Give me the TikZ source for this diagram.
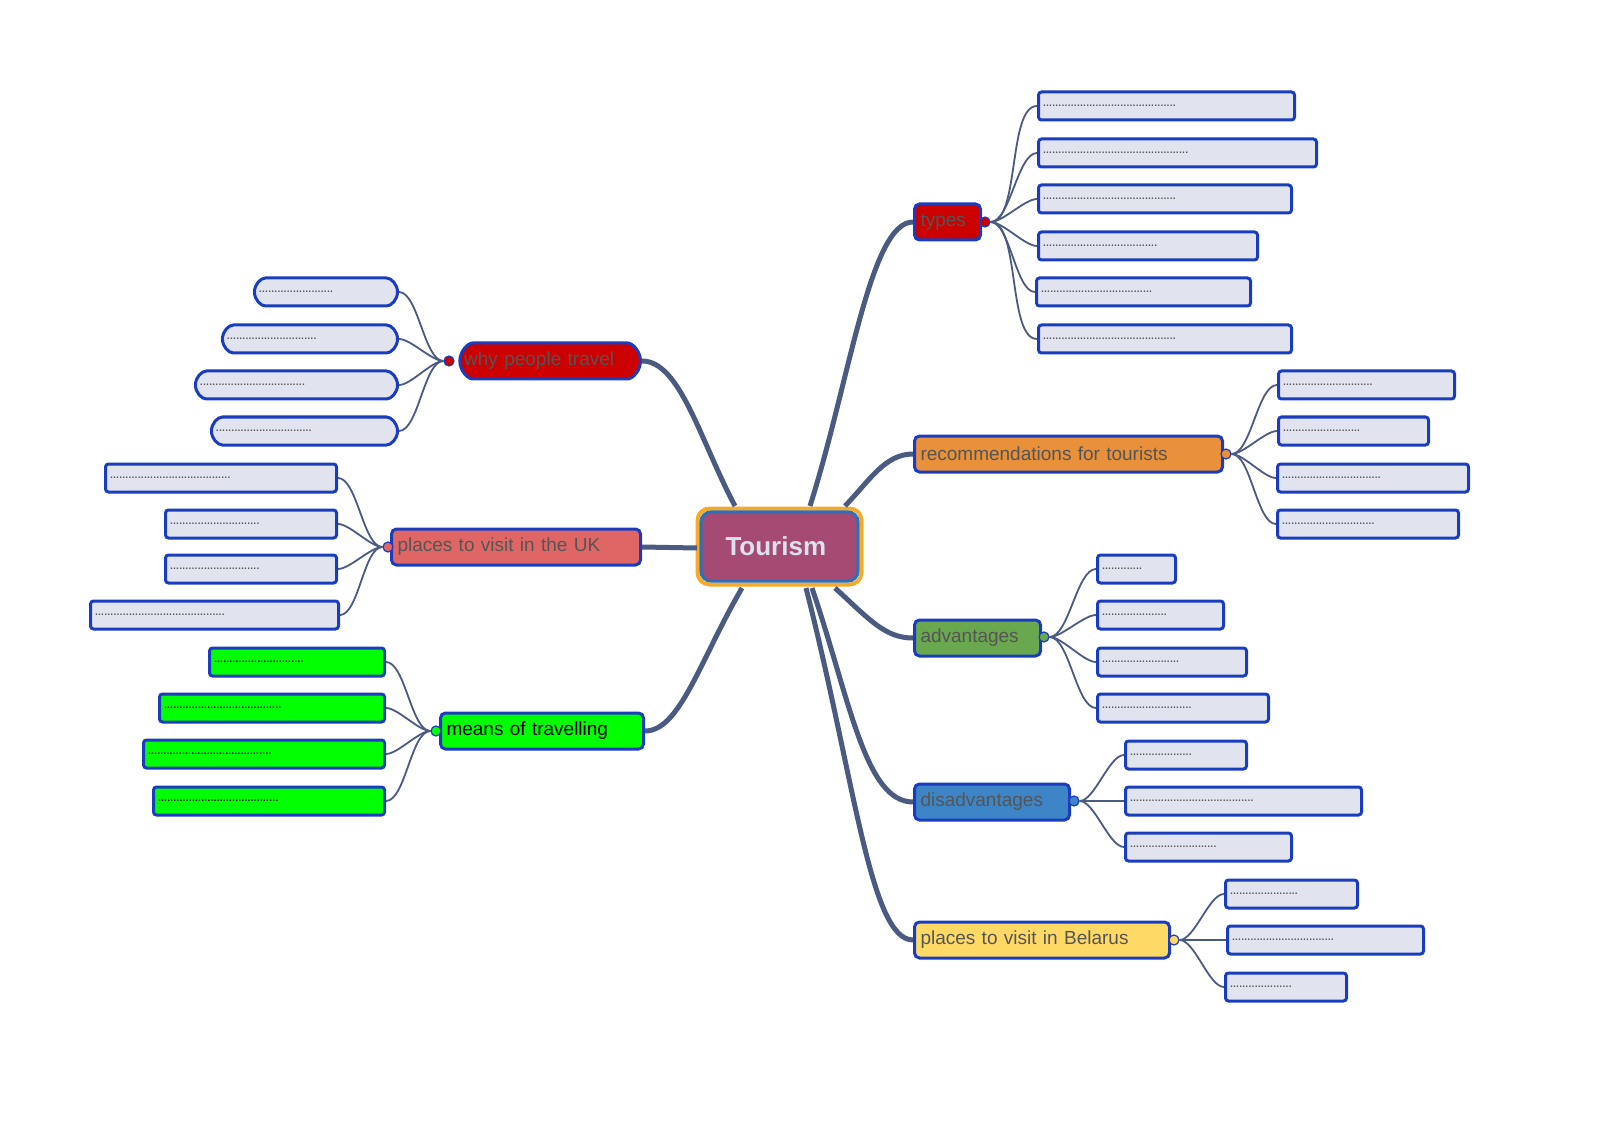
\documentclass[tikz,border=0pt]{standalone}
\usepackage{fontspec}
\setmainfont{Liberation Sans}
\usetikzlibrary{shapes.misc}
\definecolor{edge}{HTML}{4A5A80}
\definecolor{bblue}{HTML}{1A3DBF}
\definecolor{leaff}{HTML}{E1E4EF}
\definecolor{tgray}{HTML}{555555}
\tikzset{
 leafbox/.style={draw=bblue,line width=1.5pt,fill=leaff,rounded corners=1.5pt,minimum height=14pt,inner sep=2pt,font=\fontsize{7}{8}\selectfont,text=tgray},
 pill/.style={rounded rectangle},
 branch/.style={draw=bblue,line width=1.5pt,rounded corners=2.5pt,minimum height=18pt,inner sep=3pt,font=\fontsize{9.5}{11}\selectfont,text=tgray,anchor=west,align=left},
 jdot/.style={circle,draw=bblue,line width=0.6pt,inner sep=0pt,minimum size=5pt},
 main/.style={draw=edge,line width=2.5pt},
 sub/.style={draw=edge,line width=0.9pt},
}
\newcommand\leafR[6]{% name, xl, xr, y, dot, extra
 \pgfmathsetmacro\ww{(#3-#2)*0.5-4}\pgfmathtruncatemacro\nd{(#3-#2)*0.17}
 \node[leafbox,anchor=west,text width=\ww pt,#6] (#1) at (#2,#4) {\foreach\i in {1,...,\nd}{.\kern-0.4pt}};
 \draw[sub] (#5) to[out=0,in=180,looseness=0.6] (#1.west);}
\newcommand\leafL[6]{%
 \pgfmathsetmacro\ww{(#3-#2)*0.5-4}\pgfmathtruncatemacro\nd{(#3-#2)*0.17}
 \node[leafbox,anchor=east,text width=\ww pt,#6] (#1) at (#3,#4) {\foreach\i in {1,...,\nd}{.\kern-0.4pt}};
 \draw[sub] (#5) to[out=180,in=0,looseness=0.6] (#1.east);}
\begin{document}
\begin{tikzpicture}[x=0.5pt,y=-0.5pt]
\useasboundingbox (0,0) rectangle (1600,1128);
% center
\node[draw={rgb,255:red,245;green,170;blue,40},line width=2pt,rounded corners=6pt,minimum width=82pt,minimum height=38pt] (c) at (779.5,546.5) {};
\node[draw={rgb,255:red,50;green,110;blue,180},fill={rgb,255:red,165;green,75;blue,115},line width=1.6pt,rounded corners=5pt,minimum width=78.5pt,minimum height=34.5pt,font=\bfseries\fontsize{13}{15}\selectfont,text={rgb,255:red,220;green,225;blue,240},align=left,text width=70pt] (ci) at (779.5,546.5) {\hspace{8pt}Tourism};
% branches
\node[branch,fill={rgb,255:red,204;green,0;blue,0},text width=27pt] (types) at (913,222) {types};
\node[branch,fill={rgb,255:red,232;green,144;blue,58},text width=148pt] (rec) at (913,454) {recommendations for tourists};
\node[branch,fill={rgb,255:red,106;green,168;blue,79},text width=57pt] (adv) at (913,638) {advantages};
\node[branch,fill={rgb,255:red,61;green,133;blue,198},text width=71.5pt] (dis) at (913,802) {disadvantages};
\node[branch,fill={rgb,255:red,255;green,217;blue,102},text width=121.5pt] (bel) at (913,940) {places to visit in Belarus};
\node[branch,pill,fill={rgb,255:red,204;green,0;blue,0},text width=86pt,anchor=east,inner xsep=1pt] (why) at (642,361) {why people travel};
\node[branch,fill={rgb,255:red,224;green,102;blue,102},text width=118.5pt,anchor=east] (uk) at (642,547) {places to visit in the UK};
\node[branch,fill={rgb,255:red,0;green,255;blue,0},text width=95.5pt,anchor=east,text=black] (mot) at (645,731) {means of travelling};
% main connectors
\draw[main] (810,506) .. controls (850,380) and (870,222) .. (types.west);
\draw[main] (845,506) .. controls (870,480) and (885,454) .. (rec.west);
\draw[main] (835,588) .. controls (870,620) and (885,638) .. (adv.west);
\draw[main] (812,588) .. controls (850,700) and (865,802) .. (dis.west);
\draw[main] (806,588) .. controls (855,780) and (870,940) .. (bel.west);
\draw[main] (735,506) .. controls (700,440) and (680,361) .. (why.east);
\draw[main] (697,548) -- (uk.east);
\draw[main] (742,588) .. controls (700,660) and (680,731) .. (mot.east);
% junction dots
\node[jdot,fill={rgb,255:red,204;green,0;blue,0}] (dt) at (985,222) {};
\node[jdot,fill={rgb,255:red,232;green,144;blue,58}] (dr) at (1226,454) {};
\node[jdot,fill={rgb,255:red,106;green,168;blue,79}] (da) at (1044,637) {};
\node[jdot,fill={rgb,255:red,61;green,133;blue,198}] (dd) at (1074,801) {};
\node[jdot,fill={rgb,255:red,255;green,217;blue,102}] (db) at (1174,940) {};
\node[jdot,fill={rgb,255:red,204;green,0;blue,0}] (dw) at (449,361) {};
\node[jdot,fill={rgb,255:red,224;green,102;blue,102}] (du) at (388,547) {};
\node[jdot,fill={rgb,255:red,0;green,255;blue,0}] (dm) at (436,731) {};
% leaves right
\leafR{t1}{1037}{1293}{106}{dt}{}
\leafR{t2}{1037}{1315}{153}{dt}{}
\leafR{t3}{1037}{1290}{199}{dt}{}
\leafR{t4}{1037}{1256}{246}{dt}{}
\leafR{t5}{1035}{1249}{292}{dt}{}
\leafR{t6}{1037}{1290}{339}{dt}{}
\leafR{r1}{1277}{1453}{385}{dr}{}
\leafR{r2}{1277}{1427}{431}{dr}{}
\leafR{r3}{1276}{1467}{478}{dr}{}
\leafR{r4}{1276}{1457}{524}{dr}{}
\leafR{a1}{1096}{1174}{569}{da}{}
\leafR{a2}{1096}{1222}{615}{da}{}
\leafR{a3}{1096}{1245}{662}{da}{}
\leafR{a4}{1096}{1267}{708}{da}{}
\leafR{s1}{1124}{1245}{755}{dd}{}
\leafR{s2}{1124}{1360}{801}{dd}{}
\leafR{s3}{1124}{1290}{847}{dd}{}
\leafR{b1}{1224}{1356}{894}{db}{}
\leafR{b2}{1226}{1422}{940}{db}{}
\leafR{b3}{1224}{1345}{987}{db}{}
% leaves left
\leafL{w1}{256}{399}{292}{dw}{pill}
\leafL{w2}{224}{399}{339}{dw}{pill}
\leafL{w3}{197}{399}{385}{dw}{pill}
\leafL{w4}{213}{399}{431}{dw}{pill}
\leafL{u1}{107}{338}{478}{du}{}
\leafL{u2}{167}{338}{524}{du}{}
\leafL{u3}{167}{338}{569}{du}{}
\leafL{u4}{92}{340}{615}{du}{}
\leafL{m1}{211}{386}{662}{dm}{fill={rgb,255:red,0;green,255;blue,0},text=black}
\leafL{m2}{161}{386}{708}{dm}{fill={rgb,255:red,0;green,255;blue,0},text=black}
\leafL{m3}{145}{386}{754}{dm}{fill={rgb,255:red,0;green,255;blue,0},text=black}
\leafL{m4}{155}{386}{801}{dm}{fill={rgb,255:red,0;green,255;blue,0},text=black}
\end{tikzpicture}
\end{document}
